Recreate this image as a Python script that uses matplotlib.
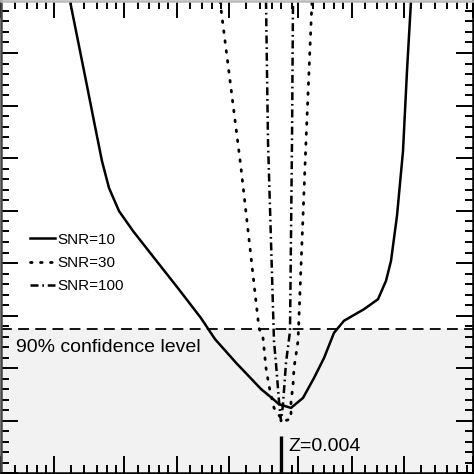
import matplotlib
matplotlib.use("Agg")
from matplotlib import pyplot as plt
from matplotlib.ticker import FixedLocator, MultipleLocator
import numpy as np

plt.rcParams["font.family"] = ["Liberation Sans", "DejaVu Sans"]

# x positions on the (unlabelled) redshift grid, y = statistic in tick units
snr10_x = [69, 85, 93, 101, 108, 118, 132, 153, 177, 200, 214, 235, 260, 272, 278, 290,
           302, 313, 323, 333, 343, 363, 377, 385, 390, 396, 402, 406, 410]
snr10_y = [8.99, 7.47, 6.70, 5.94, 5.43, 4.99, 4.61, 4.10, 3.52, 2.95, 2.55, 2.10, 1.60, 1.41, 1.31, 1.24,
           1.43, 1.81, 2.19, 2.67, 2.90, 3.12, 3.31, 3.66, 4.04, 4.90, 6.13, 7.66, 8.99]

snr30_x = [219, 236, 240, 258, 262, 265, 268, 273, 277, 283, 290, 290, 292, 293, 297, 305, 311]
snr30_y = [8.99, 6.42, 5.81, 2.76, 2.57, 2.00, 1.66, 1.24, 1.12, 0.99, 1.03, 1.37, 1.66, 2.00, 2.51, 6.32, 8.99]

snr100_x = [265, 267, 273, 275, 278, 280, 282, 285, 289, 291, 292]
snr100_y = [8.99, 6.32, 2.51, 2.08, 1.37, 0.99, 1.31, 2.10, 2.70, 6.32, 8.99]

conf_level = 2.74
z_best = 280
z_label = "Z=0.004"

x_major = [0, 53, 123, 176, 228, 297, 351, 403, 472]
x_minor = [14, 26, 36, 45, 70, 83, 96, 106, 115, 137, 148, 158, 167, 189, 201, 211, 220,
           245, 259, 271, 280, 291, 312, 323, 333, 342, 364, 376, 386, 395, 420, 434, 446, 456, 466]

fig = plt.figure(figsize=(4.74, 4.74), dpi=100)
ax = fig.add_axes([1 / 474, 1 / 474, 472 / 474, 472 / 474])
ax.set_xlim(0, 472)
ax.set_ylim(0, 472 / 52.5)

ax.axhspan(0, conf_level, color="#f2f2f2", zorder=0)
ax.axhline(conf_level, color="black", lw=1.3, linestyle=(0, (6, 3.5)), zorder=1)

ax.plot(snr10_x, snr10_y, color="black", lw=1.8, label="SNR=10")
ax.plot(snr30_x, snr30_y, color="black", lw=2.0, linestyle=(0, (0.6, 3.0)),
        dash_capstyle="round", label="SNR=30")
ax.plot(snr100_x, snr100_y, color="black", lw=1.8, linestyle=(0, (3.2, 1.5, 0.7, 1.5)),
        label="SNR=100")

ax.plot([z_best, z_best], [0, 0.70], color="black", lw=2.4, solid_capstyle="butt")
ax.text(z_best + 7, 0.50, z_label, fontsize=14, va="center", ha="left")
ax.text(15, 2.40, "90% confidence level", fontsize=14, va="center", ha="left")

ax.legend(loc="center left", bbox_to_anchor=(29 / 472, (472 - 262) / 472), frameon=False,
          fontsize=11, handlelength=1.65, handletextpad=0.12, labelspacing=0.6,
          borderpad=0, borderaxespad=0)

ax.xaxis.set_major_locator(FixedLocator(x_major))
ax.xaxis.set_minor_locator(FixedLocator(x_minor))
ax.yaxis.set_major_locator(MultipleLocator(1))
ax.yaxis.set_minor_locator(MultipleLocator(0.2))
ax.tick_params(which="both", direction="in", top=True, right=True,
               labelbottom=False, labelleft=False, width=1.4, color="black")
ax.tick_params(which="major", length=12.5)
ax.tick_params(which="minor", length=6)

for side in ["left", "right", "bottom"]:
    ax.spines[side].set_linewidth(1.8)
ax.spines["top"].set_linewidth(1.8)
ax.spines["top"].set_color("#b8b8b8")
ax.spines["left"].set_color("#444444")

fig.savefig("out.png", dpi=100)
